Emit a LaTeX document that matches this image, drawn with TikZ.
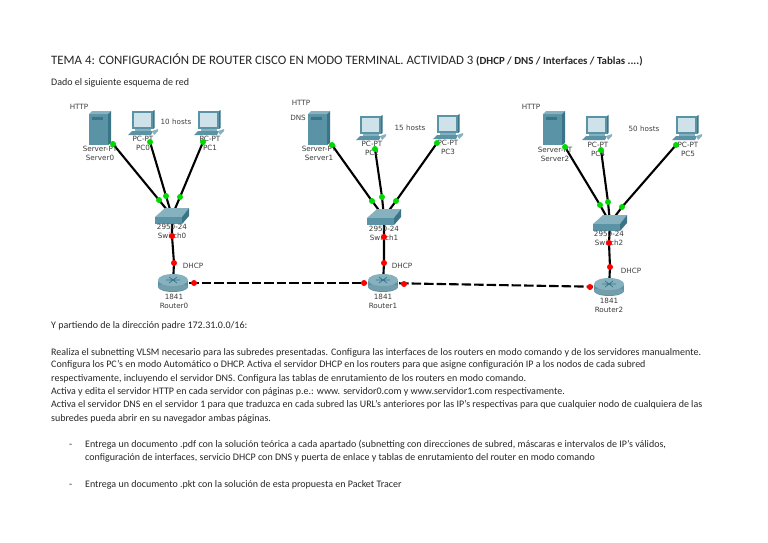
\documentclass[tikz,border=0pt]{standalone}
\usepackage{fontspec}
\setmainfont{Carlito}
\newfontfamily\ptfont{DejaVu Sans}
\usetikzlibrary{backgrounds}
\definecolor{ptfront}{HTML}{5A93A6}
\definecolor{ptside}{HTML}{3A7487}
\definecolor{pttop}{HTML}{86B2C0}
\definecolor{ptscreen}{HTML}{CFE2EA}
\definecolor{pttext}{HTML}{3A3A3A}
\tikzset{
	serverpt/.style={inner sep=0pt,minimum width=26,minimum height=36,path picture={
		\fill[ptfront] (-11,-14) rectangle (8,17);
		\fill[pttop] (-11,-14) -- (-8,-17) -- (11,-17) -- (8,-14) -- cycle;
		\fill[ptside] (8,-14) -- (11,-17) -- (11,15) -- (8,17) -- cycle;
		\fill[ptside] (-8,-11) rectangle (3,-8);
	}},
	pcpt/.style={inner sep=0pt,minimum width=32,minimum height=26,path picture={
		\fill[ptfront] (-11,-12) rectangle (10,6);
		\fill[ptside] (10,-12) -- (11.5,-13) -- (11.5,5) -- (10,6) -- cycle;
		\fill[ptscreen] (-9,-10) rectangle (8,4);
		\fill[pttop] (-8,6) rectangle (8,8);
		\fill[ptfront] (-15,12) -- (-11,8) -- (10,8) -- (8,12) -- cycle;
		\fill[pttop] (9,8) -- (15,6) -- (15,8) -- (11,12) -- cycle;
	}},
	switchpt/.style={inner sep=0pt,minimum width=35,minimum height=19,path picture={
		\fill[pttop] (-17,1) -- (-7,-8) -- (17,-8) -- (10,1) -- cycle;
		\fill[ptfront] (-17,1) rectangle (10,8);
		\fill[ptside] (10,1) -- (17,-8) -- (17,0) -- (10,8) -- cycle;
	}},
	routerpt/.style={inner sep=0pt,minimum width=32,minimum height=20,path picture={
		\fill[ptfront] (-15,-2) rectangle (15,4);
		\fill[ptfront] (0,4) ellipse (15 and 5);
		\fill[ptside!70!white] (0,-3) ++(0,7) ellipse (15 and 4);
		\fill[pttop] (0,-3) ellipse (15 and 6);
		\draw[ptside,line width=0.7pt] (-7,-3) -- (7,-3) (-4,-6) -- (4,0) (4,-6) -- (-4,0);
	}},
	gdot/.style={circle,fill=green!85!black,inner sep=0pt,minimum size=6},
	rdot/.style={circle,fill=red,inner sep=0pt,minimum size=6},
	elink/.style={line width=2.1pt,black},
	slink/.style={line width=2.1pt,black,dash pattern=on 9.5pt off 3pt},
	devtext/.style={font=\ptfont\fontsize{7.2}{9}\selectfont,text=pttext,align=center,inner sep=0pt},
	notetext/.style={font=\ptfont\fontsize{7.2}{9}\selectfont,text=black!75,inner sep=0pt},
	bodytext/.style={font=\fontsize{10}{11}\selectfont,text=black!85,anchor=base west,inner sep=0pt}
	}
\begin{document}
\begin{tikzpicture}[x=1pt,y=-1pt]
	\useasboundingbox (0,0) rectangle (768,543);
	% heading
	\node[bodytext,font=\fontsize{12.85}{15}\selectfont] (title) at (51,65) {TEMA 4: CONFIGURACIÓN DE ROUTER CISCO EN MODO TERMINAL. ACTIVIDAD 3};
	\node[bodytext,font=\bfseries\fontsize{10.85}{12}\selectfont] (titleb) at (476,64) {(DHCP / DNS / Interfaces / Tablas ....)};
	\node[bodytext] (dado) at (51,85) {Dado el siguiente esquema de red};

	% first lan
	\node[serverpt] (server0) at (100,128) {};
	\node[pcpt] (pc0) at (143,123) {};
	\node[pcpt] (pc1) at (209,123) {};
	\node[switchpt] (switch0) at (172,216) {};
	\node[routerpt] (router0) at (173,283) {};
	\node[notetext] (http0) at (79,107) {HTTP};
	\node[notetext] (hosts0) at (176,122) {10 hosts};
	\node[notetext] (dhcp0) at (193,266) {DHCP};
	\node[devtext] (lserver0) at (100,153.5) {Server-PT\\Server0};
	\node[devtext] (lpc0) at (143,143) {PC-PT\\PC0};
	\node[devtext] (lpc1) at (210,143) {PC-PT\\PC1};
	\node[devtext] (lswitch0) at (172,231.5) {2950-24\\Switch0};
	\node[devtext] (lrouter0) at (174,301.5) {1841\\Router0};

	% second lan
	\node[serverpt] (server1) at (319,128) {};
	\node[pcpt] (pc2) at (371,128) {};
	\node[pcpt] (pc3) at (448,127) {};
	\node[switchpt] (switch1) at (384,217) {};
	\node[routerpt] (router1) at (383,283) {};
	\node[notetext] (http1) at (301,103) {HTTP};
	\node[notetext] (dns1) at (298,118) {DNS};
	\node[notetext] (hosts1) at (410,128) {15 hosts};
	\node[notetext] (dhcp1) at (402,266) {DHCP};
	\node[devtext] (lserver1) at (319,153.5) {Server-PT\\Server1};
	\node[devtext] (lpc2) at (372,148.5) {PC-PT\\PC2};
	\node[devtext] (lpc3) at (448,147.5) {PC-PT\\PC3};
	\node[devtext] (lswitch1) at (384,233.5) {2950-24\\Switch1};
	\node[devtext] (lrouter1) at (383,301.5) {1841\\Router1};

	% third lan
	\node[serverpt] (server2) at (554,128) {};
	\node[pcpt] (pc4) at (597,128) {};
	\node[pcpt] (pc5) at (687,128) {};
	\node[switchpt] (switch2) at (610,223) {};
	\node[routerpt] (router2) at (609,287) {};
	\node[notetext] (http2) at (531,107) {HTTP};
	\node[notetext] (hosts2) at (644,129) {50 hosts};
	\node[notetext] (dhcp2) at (631,271) {DHCP};
	\node[devtext] (lserver2) at (555,154.5) {Server-PT\\Server2};
	\node[devtext] (lpc4) at (598,149.5) {PC-PT\\PC4};
	\node[devtext] (lpc5) at (688,149.5) {PC-PT\\PC5};
	\node[devtext] (lswitch2) at (609,238.5) {2950-24\\Switch2};
	\node[devtext] (lrouter2) at (609,305.5) {1841\\Router2};

	% port lights
	\node[gdot] (g0a) at (113,144) {}; \node[gdot] (g0b) at (150,142) {}; \node[gdot] (g0c) at (203,142) {};
	\node[gdot] (g0d) at (159,200) {}; \node[gdot] (g0e) at (166,196) {}; \node[gdot] (g0f) at (180,197) {};
	\node[rdot] (r0a) at (172,236) {}; \node[rdot] (r0b) at (174,263) {}; \node[rdot] (r0c) at (194,283) {};
	\node[gdot] (g1a) at (332,145) {}; \node[gdot] (g1b) at (375,149) {}; \node[gdot] (g1c) at (437,143) {};
	\node[gdot] (g1d) at (372,201) {}; \node[gdot] (g1e) at (382,197) {}; \node[gdot] (g1f) at (396,201) {};
	\node[rdot] (r1a) at (384,237) {}; \node[rdot] (r1b) at (384,263) {};
	\node[rdot] (r1c) at (364,283) {}; \node[rdot] (r1d) at (404,284) {};
	\node[gdot] (g2a) at (565,147) {}; \node[gdot] (g2b) at (601,150) {}; \node[gdot] (g2c) at (676,145) {};
	\node[gdot] (g2d) at (600,205) {}; \node[gdot] (g2e) at (608,202) {}; \node[gdot] (g2f) at (622,207) {};
	\node[rdot] (r2a) at (609,243) {}; \node[rdot] (r2b) at (610,267) {}; \node[rdot] (r2c) at (590,287) {};

	\begin{pgfonlayer}{background}
	\draw [elink] (g0a.center) to (g0d.center) to (switch0.center);
	\draw [elink] (g0b.center) to (g0e.center) to (switch0.center);
	\draw [elink] (g0c.center) to (g0f.center) to (switch0.center);
	\draw [elink] (switch0.center) to (r0a.center) to (r0b.center) to (router0.center);
	\draw [elink] (g1a.center) to (g1d.center) to (switch1.center);
	\draw [elink] (g1b.center) to (g1e.center) to (switch1.center);
	\draw [elink] (g1c.center) to (g1f.center) to (switch1.center);
	\draw [elink] (switch1.center) to (r1a.center) to (r1b.center) to (router1.center);
	\draw [elink] (g2a.center) to (g2d.center) to (switch2.center);
	\draw [elink] (g2b.center) to (g2e.center) to (switch2.center);
	\draw [elink] (g2c.center) to (g2f.center) to (switch2.center);
	\draw [elink] (switch2.center) to (r2a.center) to (r2b.center) to (router2.center);
	\draw [slink] (router0) to (router1);
	\draw [slink] (router1) to (router2);
	\end{pgfonlayer}

	% text under the scheme
	\node[bodytext] (t1) at (51,328) {Y partiendo de la dirección padre 172.31.0.0/16:};
	\node[bodytext] (t2) at (51,355) {Realiza el subnetting VLSM necesario para las subredes presentadas. Configura las interfaces de los routers en modo comando y de los servidores manualmente.};
	\node[bodytext] (t3) at (51,367.5) {Configura los PC’s en modo Automático o DHCP. Activa el servidor DHCP en los routers para que asigne configuración IP a los nodos de cada subred};
	\node[bodytext] (t4) at (51,381) {respectivamente, incluyendo el servidor DNS. Configura las tablas de enrutamiento de los routers en modo comando.};
	\node[bodytext] (t5) at (51,394.5) {Activa y edita el servidor HTTP en cada servidor con páginas p.e.: www. servidor0.com y www.servidor1.com respectivamente.};
	\node[bodytext] (t6) at (51,407) {Activa el servidor DNS en el servidor 1 para que traduzca en cada subred las URL’s anteriores por las IP’s respectivas para que cualquier nodo de cualquiera de las};
	\node[bodytext] (t7) at (51,421) {subredes pueda abrir en su navegador ambas páginas.};
	\node[bodytext] (b1) at (69,447) {-};
	\node[bodytext] (t8) at (85,447) {Entrega un documento .pdf con la solución teórica a cada apartado (subnetting con direcciones de subred, máscaras e intervalos de IP’s válidos,};
	\node[bodytext] (t9) at (85,460) {configuración de interfaces, servicio DHCP con DNS y puerta de enlace y tablas de enrutamiento del router en modo comando};
	\node[bodytext] (b2) at (69,487) {-};
	\node[bodytext] (t10) at (85,487) {Entrega un documento .pkt con la solución de esta propuesta en Packet Tracer};
\end{tikzpicture}
\end{document}
